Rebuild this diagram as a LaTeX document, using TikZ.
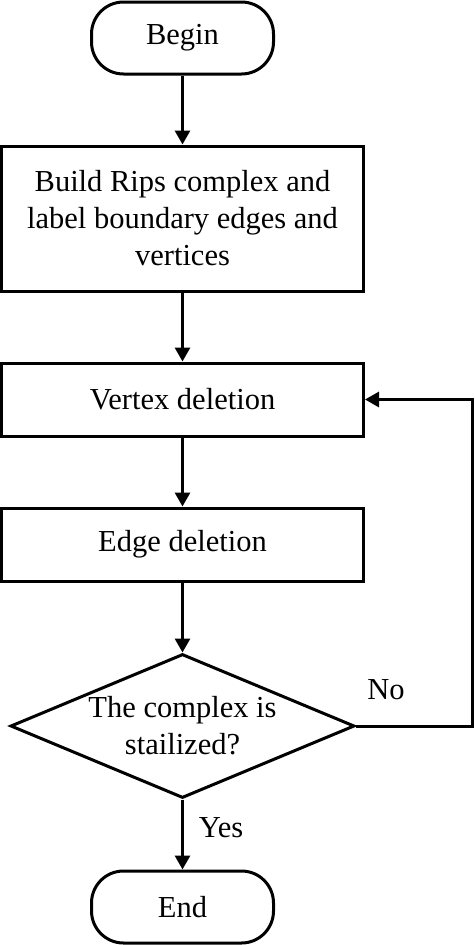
\documentclass[tikz,border=0pt]{standalone}
\usepackage{fontspec}
\setmainfont{Liberation Serif}
\usetikzlibrary{arrows.meta,shapes.geometric}
\begin{document}
\begin{tikzpicture}[x=1pt,y=-1pt,
  every node/.style={font=\fontsize{30.5}{37}\selectfont},
  line/.style={line width=3pt},
  procbox/.style={draw,line width=3pt,rectangle,minimum width=362pt,inner sep=0pt,align=center},
  termbox/.style={draw,line width=3pt,rectangle,rounded corners=32pt,minimum width=182pt,minimum height=72pt,inner sep=0pt},
  decbox/.style={draw,line width=3pt,diamond,minimum width=344pt,minimum height=144pt,inner sep=0pt},
  lbl/.style={inner sep=0pt},
  arr/.style={line,-{Triangle[length=14pt,width=15pt]}}]
\useasboundingbox (0,0) rectangle (474,945);
\node[termbox] (begin) at (182.5,38) {Begin};
\node[procbox,minimum height=145pt] (build) at (182.5,218.5) {Build Rips complex and\\label boundary edges and\\vertices};
\node[procbox,minimum height=73pt] (vertex) at (182.5,399.5) {Vertex deletion};
\node[procbox,minimum height=73pt] (edge) at (182.5,544.5) {Edge deletion};
\node[decbox] (dec) at (182.5,726) {};
\node[lbl,align=center] (dectext) at (182.5,726) {The complex is\\stailized?};
\node[termbox] (end) at (182.5,907) {End};
\node[lbl] (no) at (386,690) {No};
\node[lbl] (yes) at (221,828) {Yes};
\coordinate (loop) at (472.3,726);
\draw[arr] (begin) -- (build);
\draw[arr] (build) -- (vertex);
\draw[arr] (vertex) -- (edge);
\draw[arr] (edge.south) -- (dec.north);
\draw[arr] (dec.south) -- (end.north);
\draw[arr] (dec.east) -- (loop) |- (vertex.east);
\end{tikzpicture}
\end{document}
